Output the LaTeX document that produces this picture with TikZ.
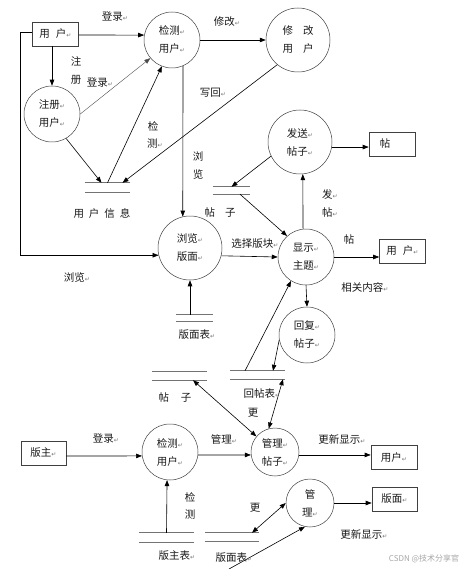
\documentclass[tikz,border=0pt]{standalone}
\usepackage{fontspec}
\usetikzlibrary{arrows.meta}
\newfontfamily\cjk{Noto Sans CJK SC}
\newfontfamily\dvs{DejaVu Sans}
\newcommand\crm{{\dvs\fontsize{6}{6}\selectfont\textcolor{black!55}{↵}}}
\newcommand\storeat[5]{% name, x, y, width, height
  \node[inner sep=0pt, minimum width=#4, minimum height=#5] (#1) at (#2,#3) {};
  \draw[storeline] (#1.north west) -- (#1.north east) (#1.south west) -- (#1.south east);}
\tikzset{
  txt/.style={font=\cjk\fontsize{10.5}{18}\selectfont, text=black!90, inner sep=0pt},
  proc/.style={txt, circle, draw=black!75, line width=0.5pt, align=center, minimum size=#1},
  proc/.default=56,
  ext/.style={txt, rectangle, draw=black!75, line width=0.6pt, align=center, minimum width=46, minimum height=24},
  storeline/.style={line width=0.9pt, black!55},
  arr/.style={line width=0.6pt, -{Triangle[length=6pt,width=4.5pt]}},
  darr/.style={line width=0.6pt, {Triangle[length=6pt,width=4.5pt]}-{Triangle[length=6pt,width=4.5pt]}},
  thinarr/.style={line width=0.4pt, black!70, -{Triangle[length=6pt,width=4.5pt]}},
  lbl/.style={txt}
}
\begin{document}
\begin{tikzpicture}[x=1pt,y=-1pt]
\useasboundingbox (0,0) rectangle (474,569);

% ---- nodes ----
\node[ext] (u1) at (55.5,34) {用\hspace{6pt}户\crm};
\node[proc] (jc1) at (172,40) {检测\crm\\用户\crm};
\node[proc=64] (xg) at (298,40) {修\hspace{10pt}改\\用\hspace{10pt}户};
\node[proc] (zc) at (52,114) {注册\crm\\用户\crm};
\storeat{info}{107.5}{187.5}{45}{9}
\node[proc=64] (ll) at (190,248) {浏览\crm\\版面\crm};
\storeat{bmb1}{194.5}{318}{37}{6}
\node[proc] (xs) at (306,257) {显示\crm\\主题\crm};
\node[ext] (u2) at (402.5,251) {用\hspace{6pt}户\crm};
\node[proc=64] (fs) at (300,142) {发送\crm\\帖子\crm};
\node[ext] (tie) at (392,144) {\hspace{-14pt}帖};
\storeat{tz1}{231.5}{190.5}{37}{7}
\node[proc] (hf) at (307,335) {回复\crm\\帖子\crm};
\storeat{htb}{257.5}{375}{55}{8}
\storeat{tz2}{179.5}{376}{55}{8}
\node[proc=48] (glt) at (275,452) {管理\crm\\帖子\crm};
\node[ext] (u3) at (394,457.5) {用户\crm};
\node[proc] (jc2) at (170,452) {检测\crm\\用户\crm};
\node[ext, minimum width=45] (bz) at (43.5,453) {版主\crm};
\storeat{bzb}{166.5}{537.5}{55}{9}
\storeat{bmb2}{232}{537}{54}{8}
\node[proc=48] (gl) at (310,503) {管\\理\crm};
\node[ext, minimum width=45] (bm) at (394.5,499) {版面\crm};
\coordinate (bot) at (229,569);

% ---- connectors ----
\draw[arr] ([yshift=-1pt]u1.east) -- (jc1.170);
\draw[arr] (jc1.east) -- (xg.west);
\draw[arr] ([yshift=2pt]u1.west) -- ++(-12,0) |- (ll.193);
\draw[arr] (zc.north |- u1.south) -- (zc.north);
\draw[thinarr] (zc.0) -- (jc1.220);
\draw[arr] (zc.300) -- ([xshift=-6pt]info.north);
\draw[arr] (info.north) -- (jc1.249);
\draw[arr] (xg.230) -- ([xshift=15pt]info.north);
\draw[arr] (jc1.293) -- (ll.103);
\draw[arr] (ll.south |- bmb1.north) -- (ll.south);
\draw[arr] (ll.346) -- (xs.west);
\draw[arr] (xs.east) -- (xs.east -| u2.west);
\draw[arr] (xs.96) -- (fs.275);
\draw[arr] (fs.351) -- (fs.351 -| tie.west);
\draw[arr] (fs.206) -- (tz1.north);
\draw[arr] ([xshift=8.5pt]tz1.south) -- (xs.132);
\draw[arr] (xs.south) -- (hf.north);
\draw[arr] ([xshift=-12.5pt]htb.north) -- (xs.238);
\draw[arr] (hf.190) -- ([xshift=15.5pt]htb.north);
\draw[darr] ([xshift=13.5pt]tz2.south) -- (glt.140);
\draw[darr] ([xshift=25.5pt]htb.south) -- (glt.105);
\draw[arr] (jc2.354) -- (glt.187);
\draw[arr] (glt.353) -- (glt.353 -| u3.west);
\draw[arr] ([yshift=-3pt]bz.east) -- (jc2.188);
\draw[arr] (bzb.north) -- (jc2.264);
\draw[darr] ([xshift=20pt]bmb2.north) -- (gl.west);
\draw[arr] (bot) -- (gl.258);
\draw[arr] (gl.east) -- (gl.east -| bm.west);

% ---- labels ----
\node[lbl] at (115,17) {登录\crm};
\node[lbl] at (227,22) {修改\crm};
\node[lbl] at (76,61) {注};
\node[lbl] at (76,80) {册};
\node[lbl] at (100,83) {登录\crm};
\node[lbl] at (153,126) {检};
\node[lbl] at (155,144) {测\crm};
\node[lbl] at (213,93) {写回\crm};
\node[lbl] at (102,213) {用\hspace{5pt}户\hspace{5pt}信\hspace{5pt}息};
\node[lbl] at (198,157) {浏};
\node[lbl] at (198,175) {览};
\node[lbl] at (77,278) {浏览\crm};
\node[lbl] at (197,335) {版面表\crm};
\node[lbl] at (255,244) {选择版块\crm};
\node[lbl] at (349,240) {帖};
\node[lbl] at (365,287) {相关内容\crm};
\node[lbl] at (330,195) {发\crm};
\node[lbl] at (330,213) {帖\crm};
\node[lbl] at (220,213) {帖\hspace{10pt}子};
\node[lbl] at (262,394) {回帖表\crm};
\node[lbl] at (253,413) {更};
\node[lbl] at (175,398) {帖\hspace{12pt}子};
\node[lbl] at (224,439) {管理\crm};
\node[lbl] at (342,439) {更新显示\crm};
\node[lbl] at (106,439) {登录\crm};
\node[lbl] at (190,497) {检};
\node[lbl] at (190,515) {测};
\node[lbl] at (177,556) {版主表\crm};
\node[lbl] at (234,558) {版面表\crm};
\node[lbl] at (255,508) {更};
\node[lbl] at (364,534) {更新显示\crm};
\node[txt, text=black!35, font=\cjk\fontsize{8}{10}\selectfont] at (424,559) {CSDN @技术分享官};
\end{tikzpicture}
\end{document}
